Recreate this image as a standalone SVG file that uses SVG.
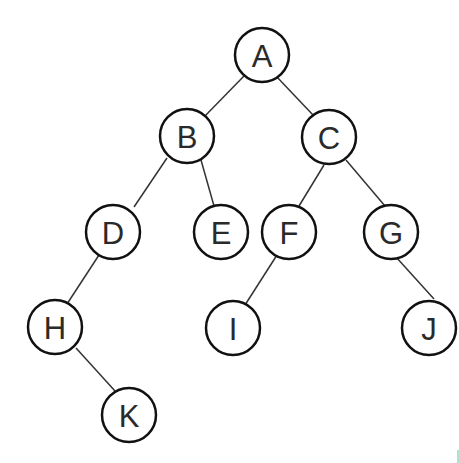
<svg xmlns="http://www.w3.org/2000/svg" width="459" height="463" viewBox="0 0 459 463">
<style>
.e{stroke:#333;stroke-width:1.5;fill:none}
.n circle{fill:#fff;stroke:#111;stroke-width:2.5}
.n text{font-family:"Liberation Sans",Arial,sans-serif;font-size:31px;fill:#2a2a2a;text-anchor:middle;dominant-baseline:central;font-weight:300}
</style>
<rect width="459" height="463" fill="#fff"/>
<g id="connectors">
<line class="e" x1="244" y1="76" x2="204" y2="117"/>
<line class="e" x1="276" y1="76" x2="313" y2="115"/>
<line class="e" x1="167" y1="158" x2="134" y2="207"/>
<line class="e" x1="201" y1="160" x2="214" y2="206"/>
<line class="e" x1="324" y1="165" x2="299" y2="206"/>
<line class="e" x1="346" y1="160" x2="385" y2="206"/>
<line class="e" x1="99" y1="255" x2="67" y2="304"/>
<line class="e" x1="277" y1="255" x2="245" y2="305"/>
<line class="e" x1="396" y1="257" x2="434" y2="299"/>
<line class="e" x1="76" y1="348" x2="115" y2="391"/>
</g>
<g id="A" class="n"><circle cx="262" cy="55" r="27"/><text x="262" y="56">A</text></g>
<g id="B" class="n"><circle cx="187" cy="136" r="27"/><text x="187" y="137">B</text></g>
<g id="C" class="n"><circle cx="329" cy="137" r="27"/><text x="329" y="138">C</text></g>
<g id="D" class="n"><circle cx="113" cy="232" r="27"/><text x="113" y="233">D</text></g>
<g id="E" class="n"><circle cx="221" cy="232" r="27"/><text x="221" y="233">E</text></g>
<g id="F" class="n"><circle cx="289" cy="232" r="27"/><text x="289" y="233">F</text></g>
<g id="G" class="n"><circle cx="391" cy="232" r="27"/><text x="391" y="233">G</text></g>
<g id="H" class="n"><circle cx="55" cy="327" r="27"/><text x="55" y="328">H</text></g>
<g id="I" class="n"><circle cx="233" cy="328" r="27"/><text x="233" y="329">I</text></g>
<g id="J" class="n"><circle cx="429" cy="328" r="27"/><text x="429" y="329">J</text></g>
<g id="K" class="n"><circle cx="129" cy="415" r="27"/><text x="129" y="416">K</text></g>
<rect x="457" y="450" width="2" height="13" fill="#a8e6cc"/>
</svg>
